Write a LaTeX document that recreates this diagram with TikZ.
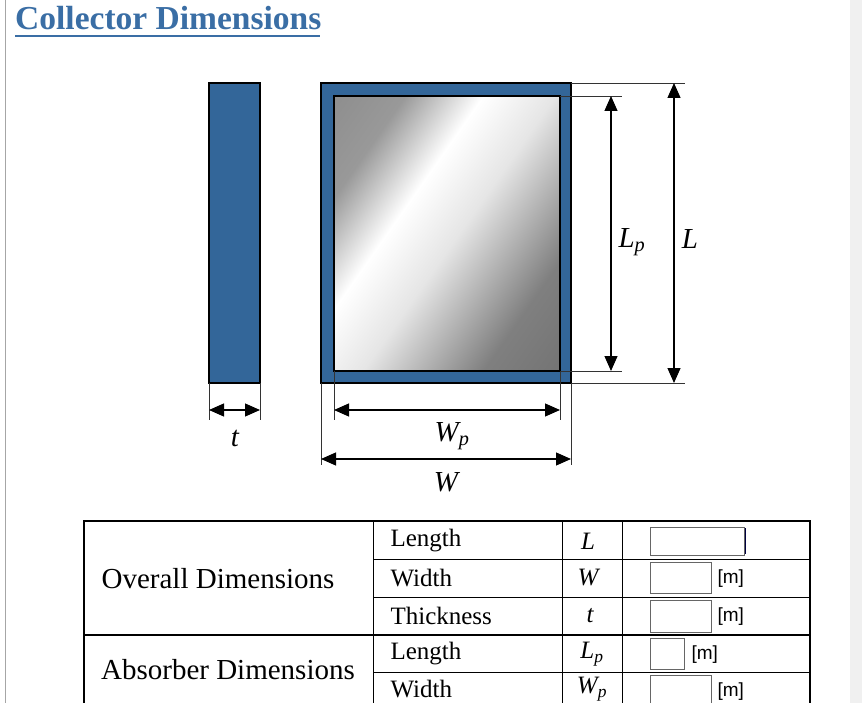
\documentclass[tikz,border=0pt]{standalone}
\usepackage{fontspec}
\setmainfont{Liberation Serif}
\newfontfamily\uisans{Liberation Sans}
\usetikzlibrary{arrows.meta,shadings}
\definecolor{frameblue}{HTML}{336699}
\definecolor{titleblue}{HTML}{3A6EA5}
\pgfdeclarehorizontalshading{panelshade}{100bp}{color(0bp)=(black!50); color(27bp)=(black!40); color(40bp)=(white); color(52bp)=(black!10); color(72bp)=(black!50); color(100bp)=(black!60)}
\begin{document}
\begin{tikzpicture}[x=1pt,y=-1pt,
  dim/.style={draw=black,line width=1.2pt,{Triangle[length=15pt,width=13pt]}-{Triangle[length=15pt,width=13pt]}},
  ext/.style={draw=black!80,line width=0.8pt},
  lbl/.style={font=\fontsize{29}{31}\selectfont\itshape},
  cell/.style={font=\fontsize{25}{27}\selectfont},
  sym/.style={font=\fontsize{25}{27}\selectfont\itshape},
  inbox/.style={draw=black!60,line width=1pt,fill=white},
  unit/.style={font=\uisans\fontsize{19}{21}\selectfont,anchor=west}]
\useasboundingbox (0,0) rectangle (862,703);
\begin{scope}
\clip (0,0) rectangle (862,703);
\fill[white] (0,0) rectangle (862,703);
\fill[black!6] (850,0) rectangle (862,703);
\draw[black!35,line width=1pt] (5,0) -- (5,703);
% title
\node[anchor=base west,inner sep=0,text=titleblue,font=\bfseries\fontsize{33.5}{36}\selectfont] (title) at (15,30) {Collector Dimensions};
\draw[titleblue,line width=1.6pt] (15,36) -- (320,36);
% thickness bar
\draw[fill=frameblue,line width=1.5pt] (209,83) rectangle (260,383);
% frame
\draw[fill=frameblue,line width=1.5pt] (321,83) rectangle (571,383);
\shade[shading=panelshade,shading angle=-35] (334,96) rectangle (560,371);
\draw[line width=1.5pt] (334,96) rectangle (560,371);
% Lp
\coordinate (lpt) at (611,96); \coordinate (lpb) at (611,371);
\draw[ext] (560,96) -- (622,96); \draw[ext] (560,371) -- (622,371);
\draw[dim] (lpt) -- (lpb);
\node[lbl] (lp) at (632,242) {L\textsubscript{\itshape p}};
% L
\coordinate (lt) at (674,83); \coordinate (lb) at (674,383);
\draw[ext] (571,83) -- (685,83); \draw[ext] (571,383) -- (685,383);
\draw[dim] (lt) -- (lb);
\node[lbl] (l) at (690,239) {L};
% t
\coordinate (tl) at (209,410); \coordinate (tr) at (260,410);
\draw[ext] (209,383) -- (209,420); \draw[ext] (260,383) -- (260,420);
\draw[dim] (tl) -- (tr);
\node[lbl] (t) at (235,438) {t};
% Wp
\coordinate (wpl) at (334,410); \coordinate (wpr) at (560,410);
\draw[ext] (334,371) -- (334,420); \draw[ext] (560,371) -- (560,420);
\draw[dim] (wpl) -- (wpr);
\node[lbl] (wp) at (452,436) {W\textsubscript{\itshape p}};
% W
\coordinate (wl) at (321,459); \coordinate (wr) at (571,459);
\draw[ext] (321,383) -- (321,465); \draw[ext] (571,383) -- (571,465);
\draw[dim] (wl) -- (wr);
\node[lbl] (w) at (446,482) {W};
% table
\draw[line width=1pt] (373,521) -- (373,710) (562,521) -- (562,710) (622,521) -- (622,710);
\draw[line width=1pt] (373,559) -- (810,559) (373,597) -- (810,597) (373,672) -- (810,672);
\draw[line width=2pt] (84,635) -- (810,635);
\draw[line width=2pt] (84,710) -- (84,521) -- (810,521) -- (810,710);
\node[cell,font=\fontsize{29}{31}\selectfont] (ov) at (218,579) {Overall Dimensions};
\node[cell,font=\fontsize{29}{31}\selectfont] (ab) at (228,670) {Absorber Dimensions};
\node[cell,anchor=west] (c1) at (387,541) {Length};
\node[cell,anchor=west] (c2) at (387,578) {Width};
\node[cell,anchor=west] (c3) at (387,616) {Thickness};
\node[cell,anchor=west] (c4) at (387,654) {Length};
\node[cell,anchor=west] (c5) at (387,689) {Width};
\node[sym] (s1) at (588,541) {L};
\node[sym] (s2) at (588,578) {W};
\node[sym] (s3) at (590,616) {t};
\node[sym] (s4) at (592,654) {L\textsubscript{p}};
\node[sym] (s5) at (592,689) {W\textsubscript{p}};
\fill[black!75!blue] (744,528) rectangle (746,554);
\draw[inbox] (650,527) rectangle (744,555);
\draw[inbox] (650,562) rectangle (711,593);
\draw[inbox] (650,600) rectangle (711,632);
\draw[inbox] (650,638) rectangle (684,669);
\draw[inbox] (650,675) rectangle (711,706);
\node[unit] (u2) at (714,579) {[m]};
\node[unit] (u3) at (714,617) {[m]};
\node[unit] (u4) at (688,655) {[m]};
\node[unit] (u5) at (714,692) {[m]};
\end{scope}
\end{tikzpicture}
\end{document}
